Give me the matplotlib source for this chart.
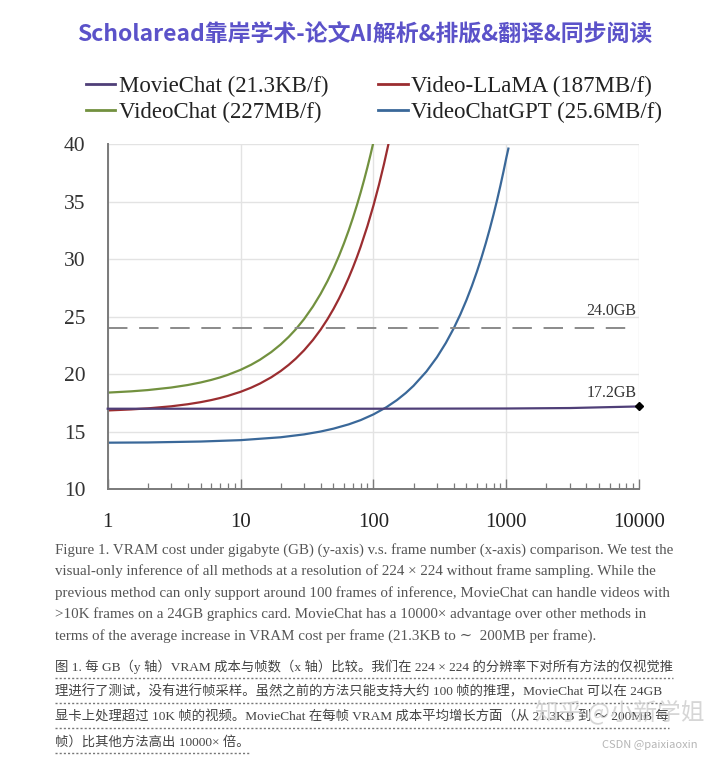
import matplotlib.pyplot as plt
from matplotlib.lines import Line2D

# ===== values =====
moviechat_f = [1, 10, 100, 1000, 3000, 10000]
moviechat_gb = [17.0, 17.0, 17.0, 17.02, 17.06, 17.2]

videochat_f = [1, 1.5, 2, 3, 4, 5, 6, 7, 8, 10, 12, 14, 17, 20, 23, 26, 30, 35, 40,
               45, 50, 55, 60, 65, 70, 75, 80, 85, 90, 95, 100]
videochat_gb = [18.40, 18.51, 18.62, 18.84, 19.06, 19.28, 19.50, 19.72, 19.94, 20.38,
                20.82, 21.26, 21.92, 22.58, 23.24, 23.90, 24.78, 25.88, 26.98, 28.08,
                29.18, 30.28, 31.38, 32.48, 33.58, 34.68, 35.78, 36.88, 37.98, 39.08, 40.18]

llama_f = [1, 1.5, 2, 3, 4, 5, 6, 7, 8, 10, 12, 14, 17, 20, 23, 26, 30, 35, 40, 45,
           50, 55, 60, 65, 70, 75, 80, 90, 100, 110, 120, 130]
llama_gb = [16.85, 16.94, 17.03, 17.21, 17.39, 17.57, 17.75, 17.93, 18.11, 18.47,
            18.83, 19.19, 19.73, 20.27, 20.81, 21.35, 22.07, 22.97, 23.87, 24.77,
            25.67, 26.57, 27.47, 28.37, 29.27, 30.17, 31.07, 32.87, 34.67, 36.47,
            38.27, 40.07]

gpt_f = [1, 2, 5, 10, 20, 30, 40, 50, 65, 80, 100, 125, 150, 175, 200, 250, 300, 350,
         400, 450, 500, 550, 600, 650, 700, 750, 800, 850, 900, 950, 1000, 1035]
gpt_gb = [14.05, 14.07, 14.15, 14.27, 14.52, 14.77, 15.02, 15.27, 15.64, 16.01, 16.51,
          17.13, 17.75, 18.37, 18.99, 20.23, 21.47, 22.71, 23.95, 25.19, 26.43, 27.67,
          28.91, 30.15, 31.39, 32.63, 33.87, 35.11, 36.35, 37.59, 38.83, 39.6]

labels = ["MovieChat (21.3KB/f)", "VideoChat (227MB/f)",
          "Video-LLaMA (187MB/f)", "VideoChatGPT (25.6MB/f)"]
limit_gb = 24.0
end_gb = 17.2

title = "Scholaread靠岸学术-论文AI解析&排版&翻译&同步阅读"
caption_en = [
    "Figure 1. VRAM cost under gigabyte (GB) (y-axis) v.s. frame number (x-axis) comparison. We test the",
    "visual-only inference of all methods at a resolution of 224 × 224 without frame sampling. While the",
    "previous method can only support around 100 frames of inference, MovieChat can handle videos with",
    ">10K frames on a 24GB graphics card. MovieChat has a 10000× advantage over other methods in",
    "terms of the average increase in VRAM cost per frame (21.3KB to ∼  200MB per frame).",
]
caption_zh = [
    "图 1. 每 GB（y 轴）VRAM 成本与帧数（x 轴）比较。我们在 224 × 224 的分辨率下对所有方法的仅视觉推",
    "理进行了测试，没有进行帧采样。虽然之前的方法只能支持大约 100 帧的推理，MovieChat 可以在 24GB",
    "显卡上处理超过 10K 帧的视频。MovieChat 在每帧 VRAM 成本平均增长方面（从 21.3KB 到 ～ 200MB 每",
    "帧）比其他方法高出 10000× 倍。",
]

W, H = 712, 758
serif = ['Liberation Serif', 'DejaVu Serif']
mixed = ['Liberation Serif', 'Noto Sans CJK SC', 'DejaVu Sans']

def px(x, y):
    return x / W, 1 - y / H

fig = plt.figure(figsize=(W / 100, H / 100), dpi=100)
ax = fig.add_axes([107.7 / W, 1 - 489.3 / H, (639.3 - 107.7) / W, (489.3 - 144) / H])

purple, green, red, blue = "#4f3f78", "#72913f", "#9b2d30", "#3a6899"
colors = [purple, green, red, blue]
ax.plot(moviechat_f, moviechat_gb, color=purple, lw=1.6, marker="D",
        markevery=[-1], ms=4.5, mfc="black", mec="black", clip_on=False, zorder=4)
ax.plot(videochat_f, videochat_gb, color=green, lw=1.6)
ax.plot(llama_f, llama_gb, color=red, lw=1.6)
ax.plot(gpt_f, gpt_gb, color=blue, lw=1.6)
ax.plot([1, 9100], [limit_gb, limit_gb], color="#8a8a8a", lw=1.4, dashes=(10, 6))

ax.text(9500, 25.1, f"{limit_gb:.1f}GB", ha="right", va="baseline",
        fontsize=11.5, family=serif, color="#333333")
ax.text(9500, 18.0, f"{end_gb:.1f}GB", ha="right", va="baseline",
        fontsize=11.5, family=serif, color="#333333")

ax.set_xscale("log")
ax.set_xlim(1, 10000)
ax.set_ylim(10, 40)
ax.set_yticks([10, 15, 20, 25, 30, 35, 40])
ax.set_xticks([1, 10, 100, 1000, 10000])
ax.set_xticklabels(["1", "10", "100", "1000", "10000"])
ax.grid(True, which="major", color="#e3e3e3", lw=1.0)
ax.set_axisbelow(True)
for s in ["top", "right"]:
    ax.spines[s].set_visible(False)
for s in ["left", "bottom"]:
    ax.spines[s].set_color("#7a7a7a")
    ax.spines[s].set_linewidth(1.4)
ax.tick_params(axis="x", which="major", direction="in", length=7, width=1.0,
               color="#7a7a7a", pad=17, labelsize=15, labelcolor="#222222")
ax.tick_params(axis="x", which="minor", direction="in", length=4, width=0.9, color="#7a7a7a")
ax.tick_params(axis="y", length=0, pad=16, labelsize=15.5, labelcolor="#333333")
for t in ax.get_xticklabels() + ax.get_yticklabels():
    t.set_family(serif)

handles = [Line2D([], [], color=c, lw=2.0) for c in colors]
fig.legend(handles, labels, ncol=2, loc="center left",
           bbox_to_anchor=(px(86, 99.5)), frameon=False, borderpad=0, borderaxespad=0,
           handlelength=1.27, handletextpad=0.15, columnspacing=2.2, labelspacing=0.2,
           prop={"family": serif, "size": 16.5}, labelcolor="#222222")

fig.text(*px(365, 35), title, ha="center", va="center", fontsize=16.5,
         fontweight="bold", color="#5b52c9", family=['Noto Sans CJK SC', 'DejaVu Sans'])

for i, line in enumerate(caption_en):
    fig.text(*px(55, 550 + 21.5 * i), line, ha="left", va="center",
             fontsize=10.8, family=serif, color="#555555")

renderer = fig.canvas.get_renderer()
for i, line in enumerate(caption_zh):
    y = 667 + 25 * i
    t = fig.text(*px(55, y), line, ha="left", va="center",
                 fontsize=9.6, family=mixed, color="#444444")
    bb = t.get_window_extent(renderer=renderer)
    fig.add_artist(Line2D([bb.x0 / W, bb.x1 / W], [1 - (y + 11) / H] * 2,
                          color="#777777", lw=1.0, ls=(0, (1.5, 1.5))))

fig.text(*px(620, 712), "知乎 @小新学姐", ha="center", va="center", fontsize=17,
         color="#cfcfcf", alpha=0.85, family=['Noto Sans CJK SC', 'DejaVu Sans'])
fig.text(*px(650, 745), "CSDN @paixiaoxin", ha="center", va="center", fontsize=8,
         color="#b5b5b5", family=['Noto Sans CJK SC', 'DejaVu Sans'])

fig.savefig("out.png", dpi=100)
